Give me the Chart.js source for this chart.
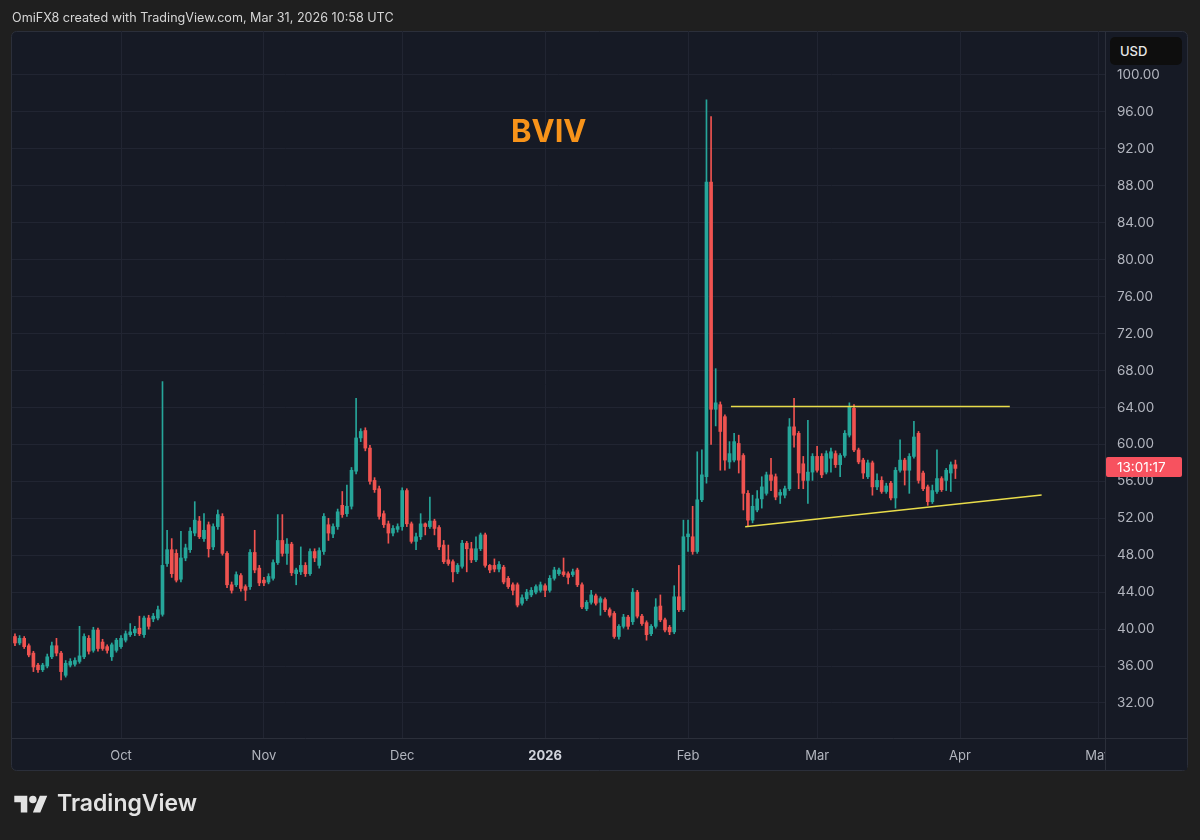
<!DOCTYPE html>
<html>
<head>
<meta charset="utf-8">
<title>BVIV</title>
<script src="https://cdn.jsdelivr.net/npm/chart.js@4.4.1/dist/chart.umd.min.js"></script>
<style>
    html, body { margin: 0; padding: 0; background: #1f1f1f; }
    body { width: 1200px; height: 840px; position: relative; overflow: hidden; font-family: Inter, "Noto Sans", sans-serif; }
    #chart { position: absolute; left: 0; top: 0; }
    .header { position: absolute; left: 12px; top: 10px; font-size: 12.6px; line-height: 16px; color: #d6d6d6; white-space: nowrap; }
    .title { position: absolute; left: 511px; top: 111px; font-size: 31px; line-height: 40px; font-weight: 700; color: #f7931a; }
    .usd { position: absolute; left: 1110px; top: 37px; width: 72px; height: 28px; box-sizing: border-box; padding-left: 10px;
           background: #0e0e0e; border-radius: 5px; color: #e8e8e8; font-size: 13px; line-height: 28px; font-weight: 500; }
    .logo { position: absolute; left: 14px; top: 792px; }
    .brand { position: absolute; left: 57px; top: 792px; font-size: 23px; line-height: 23px; font-weight: 600; color: #e3e3e3; }
</style>
</head>
<body>
<canvas id="chart" width="1200" height="840"></canvas>
<div class="header">OmiFX8 created with TradingView.com, Mar 31, 2026 10:58 UTC</div>
<div class="title">BVIV</div>
<div class="usd">USD</div>
<svg class="logo" width="34" height="26" viewBox="0 0 36 28"><path d="M14 22H7V11H0V4h14v18zM28 22h-8l7.5-18h8L28 22z" fill="#e3e3e3"/><circle cx="20" cy="8" r="4" fill="#e3e3e3"/></svg>
<div class="brand">TradingView</div>

<script>
// daily candles, first one on 8 Sep 2025, last on 31 Mar 2026
const startDate = '2025-09-08';

const opens = [
    39.2, 38.5, 39.0, 38.2, 37.4, 36.1, 35.6, 36.0, 37.0, 38.2,
    37.4, 35.0, 36.1, 36.2, 36.5, 37.0, 39.0, 37.7, 39.9, 38.6,
    38.1, 37.0, 37.7, 38.1, 38.8, 39.4, 39.6, 40.1, 39.4, 41.2,
    41.1, 41.2, 41.6, 47.1, 48.6, 48.2, 45.4, 47.7, 48.6, 50.4,
    51.7, 49.8, 51.3, 48.9, 51.1, 52.2, 48.2, 44.8, 44.8, 45.8,
    44.6, 44.6, 48.3, 46.6, 45.3, 45.1, 45.5, 47.2, 49.6, 48.2,
    49.2, 46.0, 46.2, 46.9, 46.0, 48.4, 46.9, 48.4, 51.3, 50.3,
    51.1, 53.4, 52.5, 53.3, 57.1, 60.7, 61.5, 59.6, 56.1, 55.2,
    52.5, 51.4, 50.4, 50.8, 51.1, 55.0, 51.4, 49.5, 50.0, 51.4,
    51.1, 51.7, 51.0, 49.1, 47.5, 47.3, 46.2, 46.8, 49.3, 48.7,
    47.5, 48.7, 50.2, 46.9, 46.9, 46.5, 46.7, 45.5, 44.8, 44.8,
    42.8, 43.3, 43.7, 44.0, 44.2, 44.7, 44.2, 45.5, 46.0, 46.2,
    46.0, 45.9, 46.4, 44.8, 42.2, 42.9, 43.6, 42.9, 43.2, 42.1,
    41.7, 39.2, 40.3, 41.3, 40.8, 44.0, 41.4, 40.7, 39.5, 40.3,
    42.5, 41.0, 40.2, 39.7, 43.5, 42.1, 50.0, 50.0, 48.4, 54.0,
    56.5, 88.4, 63.8, 64.3, 63.0, 58.1, 58.3, 60.1, 58.8, 54.7,
    51.8, 52.9, 54.1, 54.7, 56.7, 56.5, 54.5, 54.5, 55.2, 61.9,
    61.2, 57.9, 56.1, 57.0, 58.7, 58.7, 57.0, 58.5, 59.0, 57.8,
    58.8, 61.0, 63.9, 59.4, 58.3, 56.5, 58.0, 55.4, 56.1, 54.9,
    55.8, 54.2, 57.2, 58.3, 57.2, 58.7, 61.2, 56.9, 55.4, 53.8,
    54.9, 56.3, 56.1, 56.9, 57.8
];
const highs = [
    39.5, 39.3, 39.2, 38.4, 37.6, 36.3, 36.3, 37.3, 38.6, 39.0,
    37.6, 36.6, 36.8, 36.9, 40.3, 39.5, 39.3, 40.2, 40.1, 38.9,
    38.3, 38.5, 39.0, 39.3, 39.8, 40.6, 40.3, 41.4, 41.4, 41.5,
    41.7, 42.5, 66.8, 50.7, 49.8, 48.6, 50.6, 49.2, 51.0, 53.8,
    52.2, 52.5, 51.6, 51.4, 52.9, 52.5, 48.4, 45.1, 46.2, 46.0,
    44.8, 48.6, 50.7, 46.9, 45.6, 46.0, 47.5, 52.4, 52.4, 49.8,
    49.4, 46.6, 48.9, 47.2, 48.7, 48.7, 48.8, 52.5, 52.0, 51.4,
    53.0, 54.9, 55.6, 57.5, 65.0, 61.7, 61.8, 59.9, 56.4, 55.5,
    52.8, 51.7, 51.2, 51.4, 55.3, 55.2, 51.6, 50.4, 52.5, 51.5,
    54.3, 51.9, 51.2, 49.6, 49.1, 47.5, 47.1, 49.6, 49.5, 49.4,
    50.0, 50.4, 50.4, 47.0, 47.6, 47.3, 46.9, 45.7, 45.0, 45.0,
    43.7, 44.3, 44.5, 44.8, 45.1, 44.9, 45.8, 46.7, 46.6, 47.7,
    46.2, 46.5, 46.6, 45.0, 43.1, 44.2, 43.8, 43.5, 43.4, 42.3,
    41.9, 40.5, 41.6, 41.5, 44.4, 44.2, 41.6, 40.9, 40.5, 43.3,
    43.7, 41.2, 40.4, 44.7, 46.9, 51.8, 51.8, 53.3, 59.2, 59.4,
    97.3, 95.5, 68.2, 64.6, 63.2, 60.3, 61.2, 61.0, 59.0, 55.0,
    54.5, 55.0, 56.5, 57.0, 58.5, 56.8, 55.1, 55.5, 62.8, 65.0,
    61.4, 58.7, 62.6, 59.0, 59.8, 59.0, 59.3, 59.6, 59.3, 59.0,
    61.5, 64.5, 64.3, 59.6, 58.5, 58.3, 58.2, 56.8, 56.5, 55.8,
    56.0, 57.5, 60.5, 58.5, 59.0, 62.5, 61.4, 57.1, 55.6, 55.6,
    59.4, 56.5, 57.4, 58.1, 58.3
];
const lows = [
    38.2, 38.3, 37.9, 37.0, 35.4, 35.3, 35.4, 35.8, 36.8, 37.1,
    34.5, 34.8, 35.9, 36.0, 36.3, 36.8, 37.3, 37.5, 37.6, 37.7,
    37.4, 36.6, 37.5, 37.9, 38.6, 39.2, 39.3, 39.3, 39.1, 40.0,
    40.8, 41.0, 41.4, 46.8, 45.6, 45.1, 45.1, 47.4, 48.3, 50.1,
    49.8, 49.5, 47.8, 48.6, 50.8, 48.0, 44.5, 43.9, 44.6, 44.1,
    43.1, 44.3, 46.1, 44.7, 44.7, 44.9, 45.3, 47.0, 47.9, 47.0,
    45.8, 44.8, 45.9, 45.7, 45.8, 47.3, 46.6, 48.1, 49.6, 49.9,
    50.8, 52.1, 52.2, 53.0, 56.8, 60.3, 59.3, 55.7, 54.8, 51.9,
    51.0, 49.3, 50.1, 50.5, 50.7, 51.1, 49.3, 48.6, 49.7, 50.2,
    50.9, 50.2, 48.6, 47.1, 46.9, 45.1, 46.0, 46.6, 46.2, 47.2,
    47.3, 48.5, 46.7, 46.1, 46.2, 46.2, 44.9, 44.4, 43.7, 42.4,
    42.6, 43.1, 43.5, 43.8, 44.0, 43.5, 44.0, 45.3, 45.8, 45.7,
    44.9, 45.7, 44.6, 42.2, 42.0, 42.7, 42.6, 41.5, 41.9, 41.3,
    39.0, 38.9, 40.1, 40.0, 40.5, 41.2, 40.4, 38.8, 39.3, 40.1,
    40.8, 39.7, 39.4, 39.5, 41.9, 41.9, 48.4, 48.1, 48.2, 53.8,
    55.8, 60.0, 62.0, 57.2, 57.2, 57.4, 58.1, 56.9, 52.9, 51.1,
    51.5, 52.7, 53.1, 54.5, 55.0, 54.0, 53.6, 54.2, 55.0, 59.7,
    55.2, 55.2, 53.6, 56.1, 57.0, 56.4, 56.8, 57.0, 57.5, 56.5,
    58.6, 60.8, 59.2, 57.9, 56.3, 56.3, 54.5, 55.1, 54.7, 54.7,
    54.0, 53.1, 57.0, 55.6, 54.7, 58.5, 55.8, 55.0, 53.4, 53.6,
    54.7, 54.9, 55.0, 54.9, 56.3
];
const closes = [
    38.5, 39.0, 38.1, 37.2, 35.9, 35.6, 36.1, 37.0, 38.2, 37.4,
    35.4, 36.3, 36.5, 36.6, 37.1, 39.2, 37.6, 39.9, 37.9, 37.9,
    37.7, 38.3, 38.8, 39.0, 39.5, 39.7, 40.0, 39.5, 41.2, 40.3,
    41.4, 42.1, 46.9, 48.6, 46.0, 45.3, 47.7, 48.8, 50.6, 51.8,
    50.0, 50.7, 48.7, 51.1, 52.4, 48.2, 44.8, 44.2, 45.9, 44.4,
    44.2, 48.3, 46.4, 45.0, 45.0, 45.7, 47.2, 49.6, 48.2, 49.2,
    46.1, 46.4, 46.9, 46.0, 48.4, 47.7, 48.5, 52.2, 50.4, 51.1,
    52.7, 52.4, 53.3, 57.2, 60.7, 61.4, 59.6, 56.0, 55.1, 52.2,
    51.3, 50.4, 50.9, 51.1, 55.0, 51.4, 49.5, 50.0, 51.4, 51.1,
    51.7, 50.9, 48.9, 47.3, 47.1, 46.2, 46.9, 49.3, 48.7, 47.5,
    48.7, 50.2, 46.9, 46.4, 46.5, 47.0, 45.1, 44.6, 44.2, 42.6,
    43.4, 44.0, 44.2, 44.6, 44.8, 44.2, 45.5, 46.4, 46.4, 45.9,
    45.6, 46.2, 44.8, 42.4, 42.9, 43.7, 42.8, 43.3, 42.1, 41.5,
    39.2, 40.3, 41.3, 40.3, 44.0, 41.4, 40.6, 39.4, 40.3, 42.4,
    41.0, 39.9, 39.7, 43.5, 42.1, 50.0, 50.3, 48.4, 54.0, 56.7,
    88.4, 63.8, 64.5, 61.4, 58.3, 59.0, 60.3, 58.3, 54.7, 51.8,
    53.3, 54.1, 55.4, 56.7, 56.1, 54.3, 54.8, 55.2, 61.9, 61.0,
    56.9, 56.1, 57.0, 58.7, 57.2, 56.7, 59.0, 59.2, 57.8, 58.8,
    61.2, 64.1, 59.4, 58.1, 56.9, 58.0, 55.4, 56.1, 54.9, 55.5,
    54.2, 57.2, 58.3, 57.2, 58.7, 60.8, 56.1, 55.2, 53.8, 55.0,
    56.3, 55.1, 57.2, 57.8, 57.4
];

// time axis labels (first day of each month)
const monthTickDates = ['2025-10-01', '2025-11-01', '2025-12-01', '2026-01-01', '2026-02-01', '2026-03-01', '2026-04-01', '2026-05-01'];
const monthTickLabels = ['Oct', 'Nov', 'Dec', '2026', 'Feb', 'Mar', 'Apr', 'May'];
const priceTicks = [32, 36, 40, 44, 48, 52, 56, 60, 64, 68, 72, 76, 80, 84, 88, 92, 96, 100];

// drawn trend lines, x in days after 1 Oct 2025
const resistanceDays = [132.3, 192.8];
const resistanceValues = [64.1, 64.1];
const supportDays = [135.4, 199.7];
const supportValues = [51.08, 54.52];

const UP = '#26a69a';
const DOWN = '#ef5350';
const BG = '#161a25';
const GRID = '#212532';
const LINE_COLOR = '#e8dc4a';

const epoch = Date.UTC(2025, 9, 1);
function dayOf(s) {
    return (Date.parse(s + 'T00:00:00Z') - epoch) / 86400000;
}

const firstDay = dayOf(startDate);
const candleDays = closes.map((c, i) => firstDay + i);
const candleColors = closes.map((c, i) => (c >= opens[i] ? UP : DOWN));
const monthTickDays = monthTickDates.map(dayOf);

const panelPlugin = {
    id: 'panel',
    beforeDraw(chart) {
        const ctx = chart.ctx;
        ctx.save();
        ctx.fillStyle = '#1f1f1f';
        ctx.fillRect(0, 0, chart.width, chart.height);
        ctx.beginPath();
        ctx.roundRect(11.5, 31.5, 1176, 739, 5);
        ctx.fillStyle = BG;
        ctx.fill();
        ctx.strokeStyle = '#2b2f3a';
        ctx.lineWidth = 1;
        ctx.stroke();
        ctx.restore();
    },
    afterDatasetsDraw(chart) {
        // hide the part of the time labels that runs under the price scale
        const ctx = chart.ctx;
        const area = chart.chartArea;
        ctx.save();
        ctx.fillStyle = BG;
        ctx.fillRect(area.right + 1, area.bottom + 1, 1187 - area.right - 1, 770 - area.bottom - 1);
        ctx.strokeStyle = '#2b2f3a';
        ctx.lineWidth = 1;
        ctx.beginPath();
        ctx.moveTo(Math.round(area.right) + 0.5, 32);
        ctx.lineTo(Math.round(area.right) + 0.5, 770);
        ctx.moveTo(12, Math.round(area.bottom) + 0.5);
        ctx.lineTo(1187, Math.round(area.bottom) + 0.5);
        ctx.stroke();
        ctx.restore();
    },
    afterDraw(chart) {
        // countdown label on the last price
        const ctx = chart.ctx;
        const y = Math.round(chart.scales.y.getPixelForValue(closes[closes.length - 1]));
        ctx.save();
        ctx.fillStyle = '#f7525f';
        ctx.beginPath();
        ctx.roundRect(1106, y - 11, 76, 20, 2);
        ctx.fill();
        ctx.fillStyle = '#ffffff';
        ctx.font = '13.5px Inter, "Noto Sans", sans-serif';
        ctx.textBaseline = 'middle';
        ctx.fillText('13:01:17', 1117, y);
        ctx.restore();
    }
};

const ctx = document.getElementById('chart').getContext('2d');
new Chart(ctx, {
    type: 'bar',
    data: {
        datasets: [
            {
                type: 'line',
                label: 'Resistance',
                data: resistanceDays.map((d, i) => ({ x: d, y: resistanceValues[i] })),
                borderColor: LINE_COLOR,
                borderWidth: 1.5,
                pointRadius: 0,
                fill: false,
                order: 0
            },
            {
                type: 'line',
                label: 'Support',
                data: supportDays.map((d, i) => ({ x: d, y: supportValues[i] })),
                borderColor: LINE_COLOR,
                borderWidth: 1.5,
                pointRadius: 0,
                fill: false,
                order: 0
            },
            {
                label: 'Body',
                data: candleDays.map((d, i) => ({ x: d, y: [opens[i], closes[i]] })),
                backgroundColor: candleColors,
                barThickness: 3,
                minBarLength: 1,
                grouped: false,
                order: 1
            },
            {
                label: 'Wick',
                data: candleDays.map((d, i) => ({ x: d, y: [lows[i], highs[i]] })),
                backgroundColor: candleColors,
                barThickness: 1,
                grouped: false,
                order: 2
            }
        ]
    },
    options: {
        responsive: false,
        animation: false,
        devicePixelRatio: 1,
        layout: { padding: { left: 12, top: 31, right: 12, bottom: 69 } },
        plugins: {
            legend: { display: false },
            tooltip: { enabled: false }
        },
        scales: {
            x: {
                type: 'linear',
                min: -23.645,
                max: 213.45,
                offset: false,
                grid: { color: GRID, drawTicks: false, offset: false },
                border: { display: false },
                afterBuildTicks: (scale) => {
                    scale.ticks = monthTickDays.map((v) => ({ value: v }));
                },
                afterFit: (scale) => {
                    scale.height = 33;
                },
                ticks: {
                    autoSkip: false,
                    maxRotation: 0,
                    padding: 10,
                    color: (c) => (c.index === 3 ? '#d1d4dc' : '#b2b5be'),
                    font: (c) => ({ family: 'Inter', size: 13, weight: c.index === 3 ? '700' : '400' }),
                    callback: (value, index) => monthTickLabels[index]
                }
            },
            y: {
                position: 'right',
                min: 28.21,
                max: 104.76,
                grid: { color: GRID, drawTicks: false },
                border: { display: false },
                afterBuildTicks: (scale) => {
                    scale.ticks = priceTicks.map((v) => ({ value: v }));
                },
                afterFit: (scale) => {
                    scale.width = 83;
                },
                ticks: {
                    z: 1,
                    padding: 12,
                    color: '#b2b5be',
                    font: { family: 'Inter', size: 13.5 },
                    callback: (value) => value.toFixed(2)
                }
            }
        }
    },
    plugins: [panelPlugin]
});
</script>
</body>
</html>
